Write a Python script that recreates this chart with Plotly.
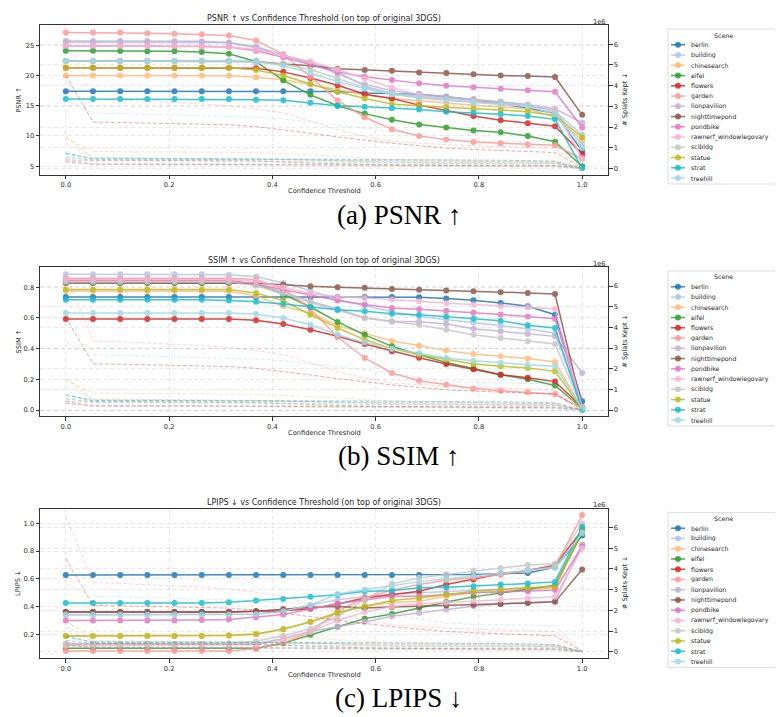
import plotly.graph_objects as go

# ---------------- data ----------------
THRESHOLDS = [0.0, 0.0526, 0.1053, 0.1579, 0.2105, 0.2632, 0.3158, 0.3684, 0.4211, 0.4737,
              0.5263, 0.5789, 0.6316, 0.6842, 0.7368, 0.7895, 0.8421, 0.8947, 0.9474, 1.0]

SCENES = ["berlin", "building", "chinesearch", "eifel", "flowers", "garden", "lionpavilion",
          "nighttimepond", "pondbike", "rawnerf_windowlegovary", "scibldg", "statue", "strat", "treehill"]

COLORS = ["#1f77b4", "#aec7e8", "#ffbb78", "#2ca02c", "#d62728", "#ff9896", "#c5b0d5",
          "#8c564b", "#e377c2", "#f7b6d2", "#c7c7c7", "#bcbd22", "#17becf", "#9edae5"]

PSNR = {
    "berlin": [17.4]*10 + [17.35, 17.1, 17.0, 16.9, 16.5, 16.0, 15.4, 14.6, 13.75, 7.5],
    "building": [25.5, 25.5, 25.5, 25.5, 25.5, 25.5, 25.4, 24.8, 23.4, 22.2, 20.6, 18.2, 17.1, 16.6, 16.3, 16.0, 15.6, 15.1, 14.0, 10.2],
    "chinesearch": [20.0, 20.0, 20.0, 20.0, 20.0, 20.0, 19.95, 19.7, 19.3, 18.5, 17.6, 16.8, 16.2, 15.8, 15.4, 15.1, 14.8, 14.5, 13.1, 9.3],
    "eifel": [24.1, 24.1, 24.05, 24.0, 24.0, 23.9, 23.6, 22.3, 19.2, 16.8, 15.0, 13.7, 12.7, 11.9, 11.4, 10.9, 10.6, 10.0, 9.05, 5.0],
    "flowers": [21.3, 21.3, 21.3, 21.3, 21.3, 21.3, 21.3, 21.2, 20.6, 19.6, 18.4, 16.9, 16.2, 15.1, 14.2, 13.3, 12.6, 12.1, 11.6, 7.0],
    "garden": [27.1, 27.1, 27.1, 27.0, 26.9, 26.8, 26.6, 25.8, 23.5, 19.8, 15.9, 13.1, 11.1, 10.0, 9.4, 9.0, 8.8, 8.6, 8.45, 6.2],
    "lionpavilion": [25.7, 25.7, 25.7, 25.7, 25.7, 25.65, 25.45, 24.6, 23.3, 22.0, 20.3, 18.5, 17.5, 16.9, 16.5, 16.1, 15.7, 15.2, 14.5, 12.2],
    "nighttimepond": [22.4, 22.4, 22.4, 22.4, 22.4, 22.4, 22.4, 22.3, 21.9, 21.6, 21.1, 20.9, 20.8, 20.5, 20.4, 20.2, 20.0, 19.9, 19.75, 13.5],
    "pondbike": [24.9, 24.9, 24.9, 24.9, 24.85, 24.8, 24.7, 24.1, 23.0, 21.8, 20.6, 19.8, 19.25, 18.7, 18.3, 18.05, 17.8, 17.55, 17.3, 11.4],
    "rawnerf_windowlegovary": [24.9, 24.9, 24.9, 24.9, 24.9, 24.85, 24.7, 24.3, 23.3, 22.3, 21.0, 19.5, 18.0, 16.8, 16.0, 15.6, 15.3, 15.0, 14.4, 6.3],
    "scibldg": [22.4, 22.4, 22.4, 22.4, 22.4, 22.4, 22.4, 22.2, 21.9, 21.0, 19.5, 18.0, 16.9, 16.4, 16.0, 15.7, 15.4, 15.0, 14.2, 8.5],
    "statue": [21.3, 21.3, 21.3, 21.3, 21.3, 21.3, 21.3, 20.9, 20.0, 18.6, 17.3, 16.2, 15.3, 15.0, 14.7, 14.5, 14.3, 14.0, 13.4, 9.8],
    "strat": [16.1, 16.1, 16.1, 16.1, 16.1, 16.1, 16.1, 16.0, 15.9, 15.5, 15.0, 14.85, 14.6, 14.4, 14.0, 13.85, 13.6, 13.3, 12.75, 4.65],
    "treehill": [22.4, 22.4, 22.4, 22.4, 22.4, 22.4, 22.4, 22.3, 21.6, 20.4, 19.0, 17.8, 16.9, 16.3, 15.9, 15.5, 15.2, 14.9, 13.6, 8.0],
}

SSIM = {
    "berlin": [0.737]*12 + [0.736, 0.735, 0.726, 0.715, 0.698, 0.676, 0.621, 0.057],
    "building": [0.885, 0.885, 0.885, 0.885, 0.885, 0.885, 0.882, 0.87, 0.828, 0.778, 0.72, 0.68, 0.64, 0.61, 0.59, 0.57, 0.55, 0.53, 0.50, 0.02],
    "chinesearch": [0.775, 0.775, 0.775, 0.775, 0.775, 0.775, 0.774, 0.745, 0.676, 0.632, 0.55, 0.50, 0.45, 0.42, 0.387, 0.365, 0.35, 0.335, 0.313, 0.01],
    "eifel": [0.83, 0.83, 0.83, 0.83, 0.83, 0.83, 0.83, 0.82, 0.756, 0.671, 0.574, 0.49, 0.415, 0.36, 0.31, 0.27, 0.23, 0.20, 0.16, 0.01],
    "flowers": [0.593, 0.593, 0.593, 0.593, 0.593, 0.593, 0.593, 0.585, 0.561, 0.523, 0.48, 0.43, 0.383, 0.34, 0.30, 0.265, 0.23, 0.21, 0.185, 0.02],
    "garden": [0.858, 0.858, 0.858, 0.858, 0.858, 0.858, 0.858, 0.85, 0.79, 0.66, 0.476, 0.339, 0.241, 0.191, 0.165, 0.14, 0.125, 0.115, 0.105, 0.01],
    "lionpavilion": [0.84, 0.84, 0.84, 0.84, 0.84, 0.84, 0.84, 0.82, 0.77, 0.708, 0.66, 0.60, 0.578, 0.575, 0.56, 0.53, 0.513, 0.495, 0.48, 0.241],
    "nighttimepond": [0.827, 0.827, 0.827, 0.827, 0.827, 0.827, 0.827, 0.826, 0.817, 0.806, 0.80, 0.796, 0.789, 0.784, 0.778, 0.774, 0.767, 0.763, 0.756, 0.01],
    "pondbike": [0.845, 0.845, 0.845, 0.845, 0.845, 0.845, 0.845, 0.82, 0.784, 0.748, 0.713, 0.687, 0.665, 0.656, 0.647, 0.634, 0.623, 0.61, 0.595, 0.02],
    "rawnerf_windowlegovary": [0.85, 0.85, 0.85, 0.85, 0.85, 0.85, 0.85, 0.84, 0.80, 0.76, 0.74, 0.73, 0.72, 0.708, 0.695, 0.687, 0.676, 0.67, 0.658, 0.02],
    "scibldg": [0.835, 0.835, 0.835, 0.835, 0.835, 0.835, 0.835, 0.81, 0.76, 0.70, 0.65, 0.60, 0.575, 0.556, 0.523, 0.49, 0.47, 0.448, 0.43, 0.01],
    "statue": [0.785, 0.785, 0.785, 0.785, 0.785, 0.785, 0.785, 0.763, 0.713, 0.621, 0.535, 0.458, 0.40, 0.36, 0.328, 0.30, 0.285, 0.274, 0.252, 0.01],
    "strat": [0.718, 0.718, 0.718, 0.718, 0.718, 0.718, 0.713, 0.706, 0.691, 0.671, 0.654, 0.643, 0.628, 0.621, 0.61, 0.595, 0.582, 0.552, 0.535, 0.0],
    "treehill": [0.632, 0.632, 0.632, 0.632, 0.632, 0.632, 0.632, 0.626, 0.60, 0.556, 0.49, 0.44, 0.40, 0.37, 0.339, 0.321, 0.306, 0.295, 0.285, 0.01],
}

LPIPS = {
    "berlin": [0.627]*15 + [0.631, 0.636, 0.643, 0.684, 0.913],
    "building": [0.34, 0.34, 0.34, 0.34, 0.34, 0.34, 0.34, 0.345, 0.37, 0.41, 0.45, 0.47, 0.49, 0.50, 0.51, 0.52, 0.53, 0.535, 0.54, 0.98],
    "chinesearch": [0.19, 0.19, 0.19, 0.19, 0.19, 0.19, 0.19, 0.20, 0.235, 0.29, 0.36, 0.40, 0.43, 0.439, 0.475, 0.499, 0.511, 0.523, 0.535, 0.95],
    "eifel": [0.10, 0.10, 0.10, 0.10, 0.10, 0.10, 0.10, 0.10, 0.135, 0.197, 0.255, 0.313, 0.347, 0.39, 0.433, 0.47, 0.499, 0.523, 0.554, 0.932],
    "flowers": [0.36, 0.36, 0.36, 0.36, 0.36, 0.36, 0.36, 0.366, 0.37, 0.385, 0.419, 0.462, 0.486, 0.51, 0.559, 0.595, 0.636, 0.66, 0.699, 0.95],
    "garden": [0.079, 0.079, 0.079, 0.079, 0.079, 0.079, 0.079, 0.096, 0.135, 0.217, 0.367, 0.462, 0.52, 0.56, 0.59, 0.61, 0.63, 0.66, 0.69, 1.06],
    "lionpavilion": [0.13, 0.13, 0.13, 0.13, 0.13, 0.13, 0.13, 0.132, 0.17, 0.222, 0.255, 0.289, 0.33, 0.354, 0.378, 0.402, 0.419, 0.426, 0.438, 0.848],
    "nighttimepond": [0.36, 0.36, 0.36, 0.36, 0.36, 0.36, 0.36, 0.366, 0.383, 0.395, 0.40, 0.39, 0.397, 0.402, 0.407, 0.414, 0.419, 0.426, 0.434, 0.667],
    "pondbike": [0.30, 0.30, 0.30, 0.30, 0.30, 0.303, 0.306, 0.323, 0.342, 0.383, 0.42, 0.448, 0.475, 0.475, 0.49, 0.50, 0.505, 0.51, 0.52, 0.836],
    "rawnerf_windowlegovary": [0.12, 0.12, 0.12, 0.12, 0.12, 0.12, 0.12, 0.125, 0.16, 0.22, 0.30, 0.36, 0.40, 0.42, 0.43, 0.44, 0.45, 0.46, 0.47, 0.82],
    "scibldg": [0.13, 0.13, 0.13, 0.13, 0.13, 0.13, 0.135, 0.15, 0.19, 0.24, 0.33, 0.45, 0.564, 0.607, 0.631, 0.66, 0.679, 0.699, 0.708, 1.0],
    "statue": [0.188, 0.188, 0.188, 0.188, 0.188, 0.188, 0.193, 0.202, 0.238, 0.289, 0.354, 0.402, 0.443, 0.462, 0.486, 0.511, 0.523, 0.535, 0.547, 0.945],
    "strat": [0.425, 0.425, 0.425, 0.425, 0.425, 0.425, 0.431, 0.443, 0.455, 0.47, 0.485, 0.511, 0.515, 0.535, 0.54, 0.547, 0.559, 0.566, 0.578, 0.974],
    "treehill": [0.342, 0.342, 0.342, 0.342, 0.342, 0.342, 0.342, 0.345, 0.366, 0.41, 0.49, 0.523, 0.55, 0.58, 0.60, 0.62, 0.64, 0.66, 0.68, 0.93],
}

# splats kept, in millions (axis offset label "1e6")
SPLATS_M = {
    "berlin": [0.75, 0.47, 0.47, 0.47, 0.47, 0.46, 0.46, 0.46, 0.45, 0.45, 0.44, 0.44, 0.43, 0.43, 0.42, 0.41, 0.40, 0.38, 0.35, 0.01],
    "building": [1.20, 0.53, 0.53, 0.52, 0.52, 0.51, 0.50, 0.48, 0.45, 0.42, 0.38, 0.35, 0.33, 0.31, 0.30, 0.29, 0.28, 0.27, 0.26, 0.01],
    "chinesearch": [1.45, 0.82, 0.81, 0.81, 0.80, 0.79, 0.78, 0.76, 0.72, 0.66, 0.58, 0.50, 0.44, 0.41, 0.39, 0.37, 0.36, 0.35, 0.34, 0.01],
    "eifel": [0.55, 0.40, 0.40, 0.39, 0.39, 0.39, 0.38, 0.36, 0.31, 0.26, 0.22, 0.19, 0.17, 0.15, 0.14, 0.13, 0.12, 0.12, 0.11, 0.00],
    "flowers": [4.50, 2.24, 2.22, 2.20, 2.17, 2.14, 2.11, 2.02, 1.87, 1.70, 1.52, 1.36, 1.22, 1.10, 0.98, 0.92, 0.87, 0.82, 0.77, 0.02],
    "garden": [6.56, 3.34, 3.30, 3.25, 3.18, 3.12, 3.03, 2.88, 2.68, 2.30, 1.87, 1.55, 1.31, 1.22, 1.15, 1.10, 1.06, 1.02, 0.98, 0.02],
    "lionpavilion": [0.47, 0.22, 0.22, 0.22, 0.21, 0.21, 0.21, 0.20, 0.18, 0.16, 0.15, 0.14, 0.13, 0.13, 0.12, 0.12, 0.11, 0.11, 0.10, 0.01],
    "nighttimepond": [0.32, 0.20, 0.20, 0.20, 0.20, 0.20, 0.20, 0.19, 0.19, 0.18, 0.18, 0.17, 0.17, 0.17, 0.16, 0.16, 0.16, 0.15, 0.15, 0.01],
    "pondbike": [0.42, 0.37, 0.37, 0.37, 0.36, 0.36, 0.36, 0.35, 0.33, 0.31, 0.29, 0.27, 0.26, 0.25, 0.24, 0.24, 0.23, 0.23, 0.22, 0.01],
    "rawnerf_windowlegovary": [0.35, 0.25, 0.25, 0.25, 0.24, 0.24, 0.24, 0.23, 0.22, 0.21, 0.20, 0.19, 0.18, 0.17, 0.17, 0.16, 0.16, 0.15, 0.15, 0.00],
    "scibldg": [0.40, 0.18, 0.18, 0.18, 0.18, 0.17, 0.17, 0.16, 0.15, 0.13, 0.12, 0.11, 0.10, 0.10, 0.09, 0.09, 0.09, 0.08, 0.08, 0.00],
    "statue": [1.55, 0.50, 0.49, 0.49, 0.48, 0.48, 0.47, 0.46, 0.43, 0.39, 0.35, 0.32, 0.30, 0.29, 0.28, 0.27, 0.27, 0.26, 0.25, 0.01],
    "strat": [0.70, 0.45, 0.45, 0.45, 0.44, 0.44, 0.44, 0.43, 0.42, 0.41, 0.40, 0.39, 0.38, 0.37, 0.36, 0.35, 0.34, 0.33, 0.31, 0.00],
    "treehill": [3.27, 2.67, 2.65, 2.62, 2.59, 2.56, 2.52, 2.47, 2.39, 2.25, 2.11, 1.95, 1.79, 1.60, 1.39, 1.33, 1.30, 1.28, 1.27, 0.02],
}

X_TICKS = [0.0, 0.2, 0.4, 0.6, 0.8, 1.0]
SPLAT_TICKS = [0, 1, 2, 3, 4, 5, 6]

PANELS = [
    dict(metric=PSNR, name="PSNR ↑", caption="(a) PSNR ↑", ticks=[5, 10, 15, 20, 25], fmt="d",
         yrange=[3.6, 28.3], top=17.3, bottom=166.7),
    dict(metric=SSIM, name="SSIM ↑", caption="(b) SSIM ↑", ticks=[0.0, 0.2, 0.4, 0.6, 0.8], fmt=".1f",
         yrange=[-0.041, 0.930], top=259.3, bottom=408.3),
    dict(metric=LPIPS, name="LPIPS ↓", caption="(c) LPIPS ↓", ticks=[0.2, 0.4, 0.6, 0.8, 1.0], fmt=".1f",
         yrange=[0.029, 1.106], top=500.7, bottom=650.0),
]

# ---------------- layout helpers ----------------
W, H = 783, 717
X_LEFT, X_RIGHT = 32.0, 600.0
FONT = "DejaVu Sans"
TXT = "#262626"


def fx(p):
    return p / W


def fy(p):
    return 1 - p / H


fig = go.Figure()
layout = dict(
    width=W, height=H, margin=dict(l=0, r=0, t=0, b=0, autoexpand=False),
    paper_bgcolor="white", plot_bgcolor="white", showlegend=False,
    font=dict(family=FONT, size=7, color=TXT),
)
annotations = []
shapes = []

grid = dict(showgrid=True, gridcolor="rgba(0,0,0,0.09)", griddash="4px,3px", gridwidth=0.7)

for k, pan in enumerate(PANELS):
    xn = "" if k == 0 else str(k + 1)
    y1n = "" if k == 0 else str(2 * k + 1)
    y2n = str(2 * k + 2)
    xref, y1ref, y2ref = "x" + xn, "y" + y1n, "y" + y2n
    dom_y = [fy(pan["bottom"]), fy(pan["top"])]

    layout["xaxis" + xn] = dict(
        domain=[fx(X_LEFT), fx(X_RIGHT)], anchor=y1ref, range=[-0.05, 1.05],
        tickvals=X_TICKS, tickformat=".1f", ticks="outside", ticklen=3.5, tickwidth=0.8,
        tickcolor="#333", showline=True, linecolor="#333", linewidth=1, mirror=True,
        zeroline=False, tickfont=dict(size=6.7, color=TXT), **grid)
    layout["yaxis" + y1n] = dict(
        domain=dom_y, anchor=xref, range=pan["yrange"], tickvals=pan["ticks"],
        tickformat=pan["fmt"], ticks="outside", ticklen=3.5, tickwidth=0.8, tickcolor="#333",
        showline=True, linecolor="#333", linewidth=1, mirror=True, zeroline=False,
        tickfont=dict(size=6.7, color=TXT), **grid)
    layout["yaxis" + y2n] = dict(
        overlaying=y1ref, side="right", anchor=xref, range=[-0.3, 6.91],
        tickvals=SPLAT_TICKS, ticks="outside", ticklen=3.5, tickwidth=0.8, tickcolor="#333",
        showline=False, zeroline=False, tickfont=dict(size=6.7, color=TXT), **grid)

    metric = pan["metric"]
    for scene, color in zip(SCENES, COLORS):
        fig.add_trace(go.Scatter(
            x=THRESHOLDS, y=metric[scene], xaxis=xref, yaxis=y1ref, mode="lines+markers",
            name=scene, line=dict(color=color, width=1.5), opacity=0.85,
            marker=dict(size=6, color=color, line=dict(width=0))))
    for scene, color in zip(SCENES, COLORS):
        fig.add_trace(go.Scatter(
            x=THRESHOLDS, y=SPLATS_M[scene], xaxis=xref, yaxis=y2ref, mode="lines",
            name=scene + " splats", line=dict(color=color, width=1, dash="4px,2px"), opacity=0.4))

    top, bottom = pan["top"], pan["bottom"]
    mid = (top + bottom) / 2
    xc = (X_LEFT + X_RIGHT) / 2
    annotations += [
        dict(text=pan["name"] + " vs Confidence Threshold (on top of original 3DGS)", x=fx(xc),
             y=fy(top - 6.6), xref="paper", yref="paper", showarrow=False,
             xanchor="center", yanchor="middle", font=dict(size=8, color=TXT)),
        dict(text="Confidence Threshold", x=fx(xc), y=fy(bottom + 16.6), xref="paper", yref="paper",
             showarrow=False, xanchor="center", yanchor="middle", font=dict(size=6.7, color=TXT)),
        dict(text=pan["name"], x=fx(10.7), y=fy(mid), xref="paper", yref="paper", showarrow=False,
             textangle=-90, xanchor="center", yanchor="middle", font=dict(size=6.7, color=TXT)),
        dict(text="# Splats Kept ↓", x=fx(617), y=fy(mid), xref="paper", yref="paper",
             showarrow=False, textangle=-90, xanchor="center", yanchor="middle",
             font=dict(size=6.7, color=TXT)),
        dict(text="1e6", x=fx(600), y=fy(top - 3.3), xref="paper", yref="paper", showarrow=False,
             xanchor="right", yanchor="middle", font=dict(size=6.7, color=TXT)),
        dict(text=pan["caption"], x=fx(391), y=fy(bottom + 40), xref="paper", yref="paper",
             showarrow=False, xanchor="center", yanchor="middle",
             font=dict(family="Liberation Serif", size=27, color="black")),
    ]

    # legend box (drawn as layout decoration)
    box_top = top + 3.7
    shapes.append(dict(type="rect", xref="paper", yref="paper", x0=fx(660), x1=fx(769),
                       y0=fy(box_top + 155), y1=fy(box_top), line=dict(color="#d4d4d4", width=0.8),
                       fillcolor="rgba(255,255,255,0.8)", layer="above"))
    annotations.append(dict(text="Scene", x=fx(715), y=fy(box_top + 6), xref="paper", yref="paper",
                            showarrow=False, xanchor="center", yanchor="middle",
                            font=dict(size=6.3, color=TXT)))
    for i, (scene, color) in enumerate(zip(SCENES, COLORS)):
        yy = box_top + 15.8 + i * 10.25
        shapes.append(dict(type="line", xref="paper", yref="paper", x0=fx(663), x1=fx(677),
                           y0=fy(yy), y1=fy(yy), line=dict(color=color, width=1.5), opacity=0.85,
                           layer="above"))
        shapes.append(dict(type="circle", xref="paper", yref="paper", x0=fx(667), x1=fx(673),
                           y0=fy(yy + 3), y1=fy(yy - 3), line=dict(width=0), fillcolor=color,
                           opacity=0.85, layer="above"))
        annotations.append(dict(text=scene, x=fx(681), y=fy(yy), xref="paper", yref="paper",
                                showarrow=False, xanchor="left", yanchor="middle",
                                font=dict(size=6.2, color=TXT)))

layout["annotations"] = annotations
layout["shapes"] = shapes
fig.update_layout(**layout)
fig.write_html("out.html")
